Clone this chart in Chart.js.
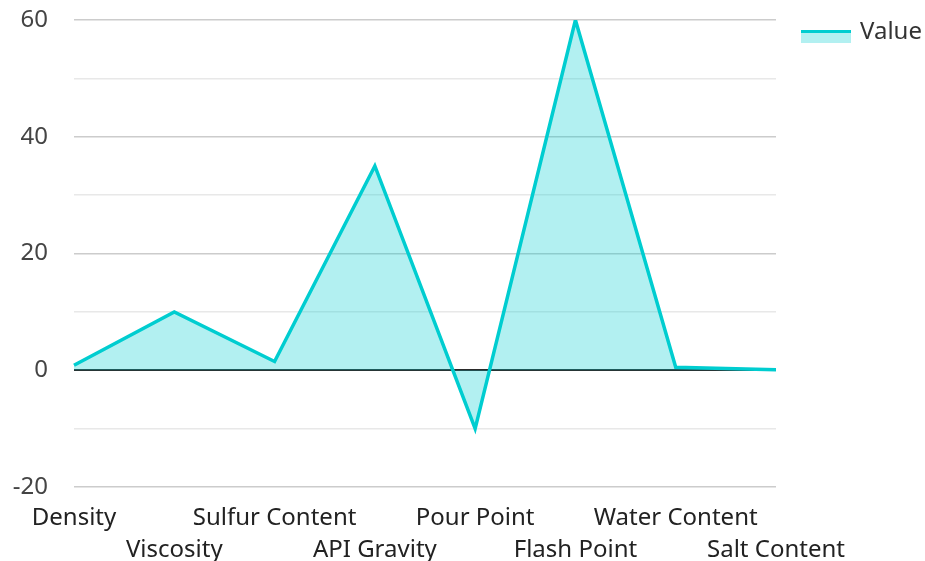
<!DOCTYPE html>
<html>
<head>
<meta charset="utf-8">
<script src="https://cdn.jsdelivr.net/npm/chart.js@4"></script>
<style>
  html, body { margin: 0; padding: 0; background: #fff; }
  #wrap { width: 925px; height: 561px; }
</style>
</head>
<body>
<div id="wrap"><canvas id="chart" width="925" height="561"></canvas></div>
<script>
const categories = ['Density', 'Viscosity', 'Sulfur Content', 'API Gravity', 'Pour Point', 'Flash Point', 'Water Content', 'Salt Content'];
const values = [0.86, 10, 1.5, 35, -10, 60, 0.5, 0.1];
const seriesName = 'Value';
const yMin = -20;
const yMax = 60;

const lineColor = '#00cdd0';
const fillColor = 'rgba(0, 205, 208, 0.3)';
const fontFamily = '"Noto Sans", "Open Sans", sans-serif';

// alternate labels on two rows
const tickLabels = categories.map((c, i) => (i % 2 === 0 ? [c, ''] : ['', c]));

const legendPlugin = {
  id: 'sideLegend',
  afterDraw(chart) {
    const ctx = chart.ctx;
    const x = chart.chartArea.right + 25;
    const y = 30;
    ctx.save();
    ctx.fillStyle = fillColor;
    ctx.fillRect(x, y, 50, 13);
    ctx.fillStyle = lineColor;
    ctx.fillRect(x, y, 50, 3);
    ctx.fillStyle = '#333';
    ctx.font = '24px ' + fontFamily;
    ctx.textBaseline = 'middle';
    ctx.fillText(seriesName, x + 59, y + 2);
    ctx.restore();
  }
};

new Chart(document.getElementById('chart'), {
  type: 'line',
  data: {
    labels: tickLabels,
    datasets: [{
      label: seriesName,
      data: values,
      borderColor: lineColor,
      backgroundColor: fillColor,
      borderWidth: 3.5,
      borderJoinStyle: 'miter',
      fill: 'origin',
      tension: 0,
      pointRadius: 0,
    }],
  },
  options: {
    responsive: false,
    animation: false,
    layout: { padding: { top: 20, right: 149, left: 0, bottom: 0 } },
    plugins: { legend: { display: false }, tooltip: { enabled: false } },
    scales: {
      x: {
        offset: false,
        afterFit(scale) { scale.height = 74; },
        grid: { display: false, drawTicks: false },
        border: { display: false },
        ticks: {
          autoSkip: false,
          maxRotation: 0,
          padding: 16,
          color: '#222',
          font: { family: fontFamily, size: 24, lineHeight: 1.3 },
        },
      },
      y: {
        min: yMin,
        max: yMax,
        afterFit(scale) {
          scale.width = 74;
          scale.paddingTop = 0;
          scale.paddingBottom = 0;
        },
        grid: {
          drawTicks: false,
          lineWidth: (c) => (c.tick && c.tick.value === 0 ? 2 : 1.5),
          color: (c) => {
            if (!c.tick) return '#ccc';
            if (c.tick.value === 0) return '#2a2a2a';
            return c.tick.value % 20 === 0 ? '#cccccc' : '#e8e8e8';
          },
        },
        border: { display: false },
        ticks: {
          stepSize: 10,
          padding: 26,
          color: '#444',
          font: { family: fontFamily, size: 24 },
          callback: (v) => (v % 20 === 0 ? v : ''),
        },
      },
    },
  },
  plugins: [legendPlugin],
});
</script>
</body>
</html>
